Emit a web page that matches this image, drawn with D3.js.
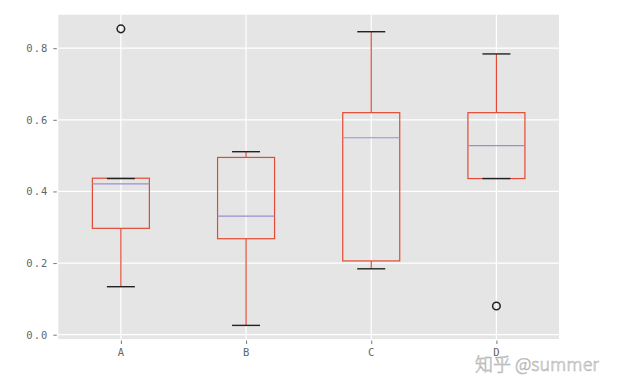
<!DOCTYPE html>
<html><head><meta charset="utf-8">
<script src="https://cdn.jsdelivr.net/npm/d3@7"></script>
<style>body{margin:0;background:#fff;}</style>
</head><body><svg id="c" width="625" height="389"></svg>
<script>
const categories = ["A", "B", "C", "D"];
const whiskerLow  = [0.134, 0.026, 0.184, 0.436];
const q1          = [0.297, 0.268, 0.206, 0.436];
const medians     = [0.421, 0.331, 0.550, 0.528];
const q3          = [0.437, 0.495, 0.620, 0.620];
const whiskerHigh = [0.436, 0.511, 0.846, 0.784];
const outliers    = [[0.854], [], [], [0.080]];
const yTicks      = [0.0, 0.2, 0.4, 0.6, 0.8];

const svg = d3.select("#c");
const L = 58.3, R = 559, T = 14.7, B = 339;
const x = d3.scaleLinear().domain([0.5, 4.5]).range([L, R]);
const y = d3.scaleLinear().domain([0, 0.8]).range([334.7, 48.2]);

svg.append("rect").attr("x", L).attr("y", T).attr("width", R - L).attr("height", B - T).attr("fill", "#E5E5E5");

// grid
svg.append("g").selectAll("line").data(yTicks).join("line")
  .attr("x1", L).attr("x2", R).attr("y1", d => y(d)).attr("y2", d => y(d))
  .attr("stroke", "#fff").attr("stroke-width", 1.2);
svg.append("g").selectAll("line").data(categories).join("line")
  .attr("x1", (d, i) => x(i + 1)).attr("x2", (d, i) => x(i + 1)).attr("y1", T).attr("y2", B)
  .attr("stroke", "#fff").attr("stroke-width", 1.2);

// axes
const yAxis = d3.axisLeft(y).tickValues(yTicks).tickFormat(d3.format(".1f")).tickSize(3.5).tickPadding(5);
const gy = svg.append("g").attr("transform", `translate(${L - 1.5},0)`).call(yAxis);
const xAxis = d3.axisBottom(x).tickValues([1, 2, 3, 4]).tickFormat((d) => categories[d - 1]).tickSize(3.5).tickPadding(5);
const gx = svg.append("g").attr("transform", `translate(0,${B + 1.5})`).call(xAxis);
[gy, gx].forEach(g => {
  g.select(".domain").remove();
  g.selectAll(".tick line").attr("stroke", "#777");
  g.selectAll(".tick text").attr("fill", "#666").attr("font-family", "DejaVu Sans Mono")
    .attr("font-size", 10.5).attr("letter-spacing", "1px");
});

// boxes
const bw = 57, cw = 28;
const g = svg.append("g");
categories.forEach((c, i) => {
  const cx = x(i + 1);
  g.append("line").attr("x1", cx).attr("x2", cx).attr("y1", y(q3[i])).attr("y2", y(whiskerHigh[i]))
    .attr("stroke", "#E24A33").attr("stroke-width", 1.2);
  g.append("line").attr("x1", cx).attr("x2", cx).attr("y1", y(q1[i])).attr("y2", y(whiskerLow[i]))
    .attr("stroke", "#E24A33").attr("stroke-width", 1.2);
  g.append("rect").attr("x", cx - bw / 2).attr("y", y(q3[i])).attr("width", bw)
    .attr("height", y(q1[i]) - y(q3[i])).attr("fill", "none").attr("stroke", "#E24A33").attr("stroke-width", 1.2);
  g.append("line").attr("x1", cx - bw / 2).attr("x2", cx + bw / 2).attr("y1", y(medians[i])).attr("y2", y(medians[i]))
    .attr("stroke", "#988ED5").attr("stroke-width", 1.2);
  [whiskerLow[i], whiskerHigh[i]].forEach(v => {
    g.append("line").attr("x1", cx - cw / 2).attr("x2", cx + cw / 2).attr("y1", y(v)).attr("y2", y(v))
      .attr("stroke", "#222").attr("stroke-width", 1.4);
  });
  outliers[i].forEach(v => {
    g.append("circle").attr("cx", cx).attr("cy", y(v)).attr("r", 3.8)
      .attr("fill", "none").attr("stroke", "#222").attr("stroke-width", 1.5);
  });
});

// watermark
svg.append("text").attr("x", 475).attr("y", 371).text("知乎 @summer")
  .attr("font-family", "Noto Sans CJK SC").attr("font-weight", 300).attr("font-size", 18)
  .attr("fill", "#fff").attr("fill-opacity", 0.7).attr("stroke", "#b0b0b0").attr("stroke-width", 0.6);
</script></body></html>
